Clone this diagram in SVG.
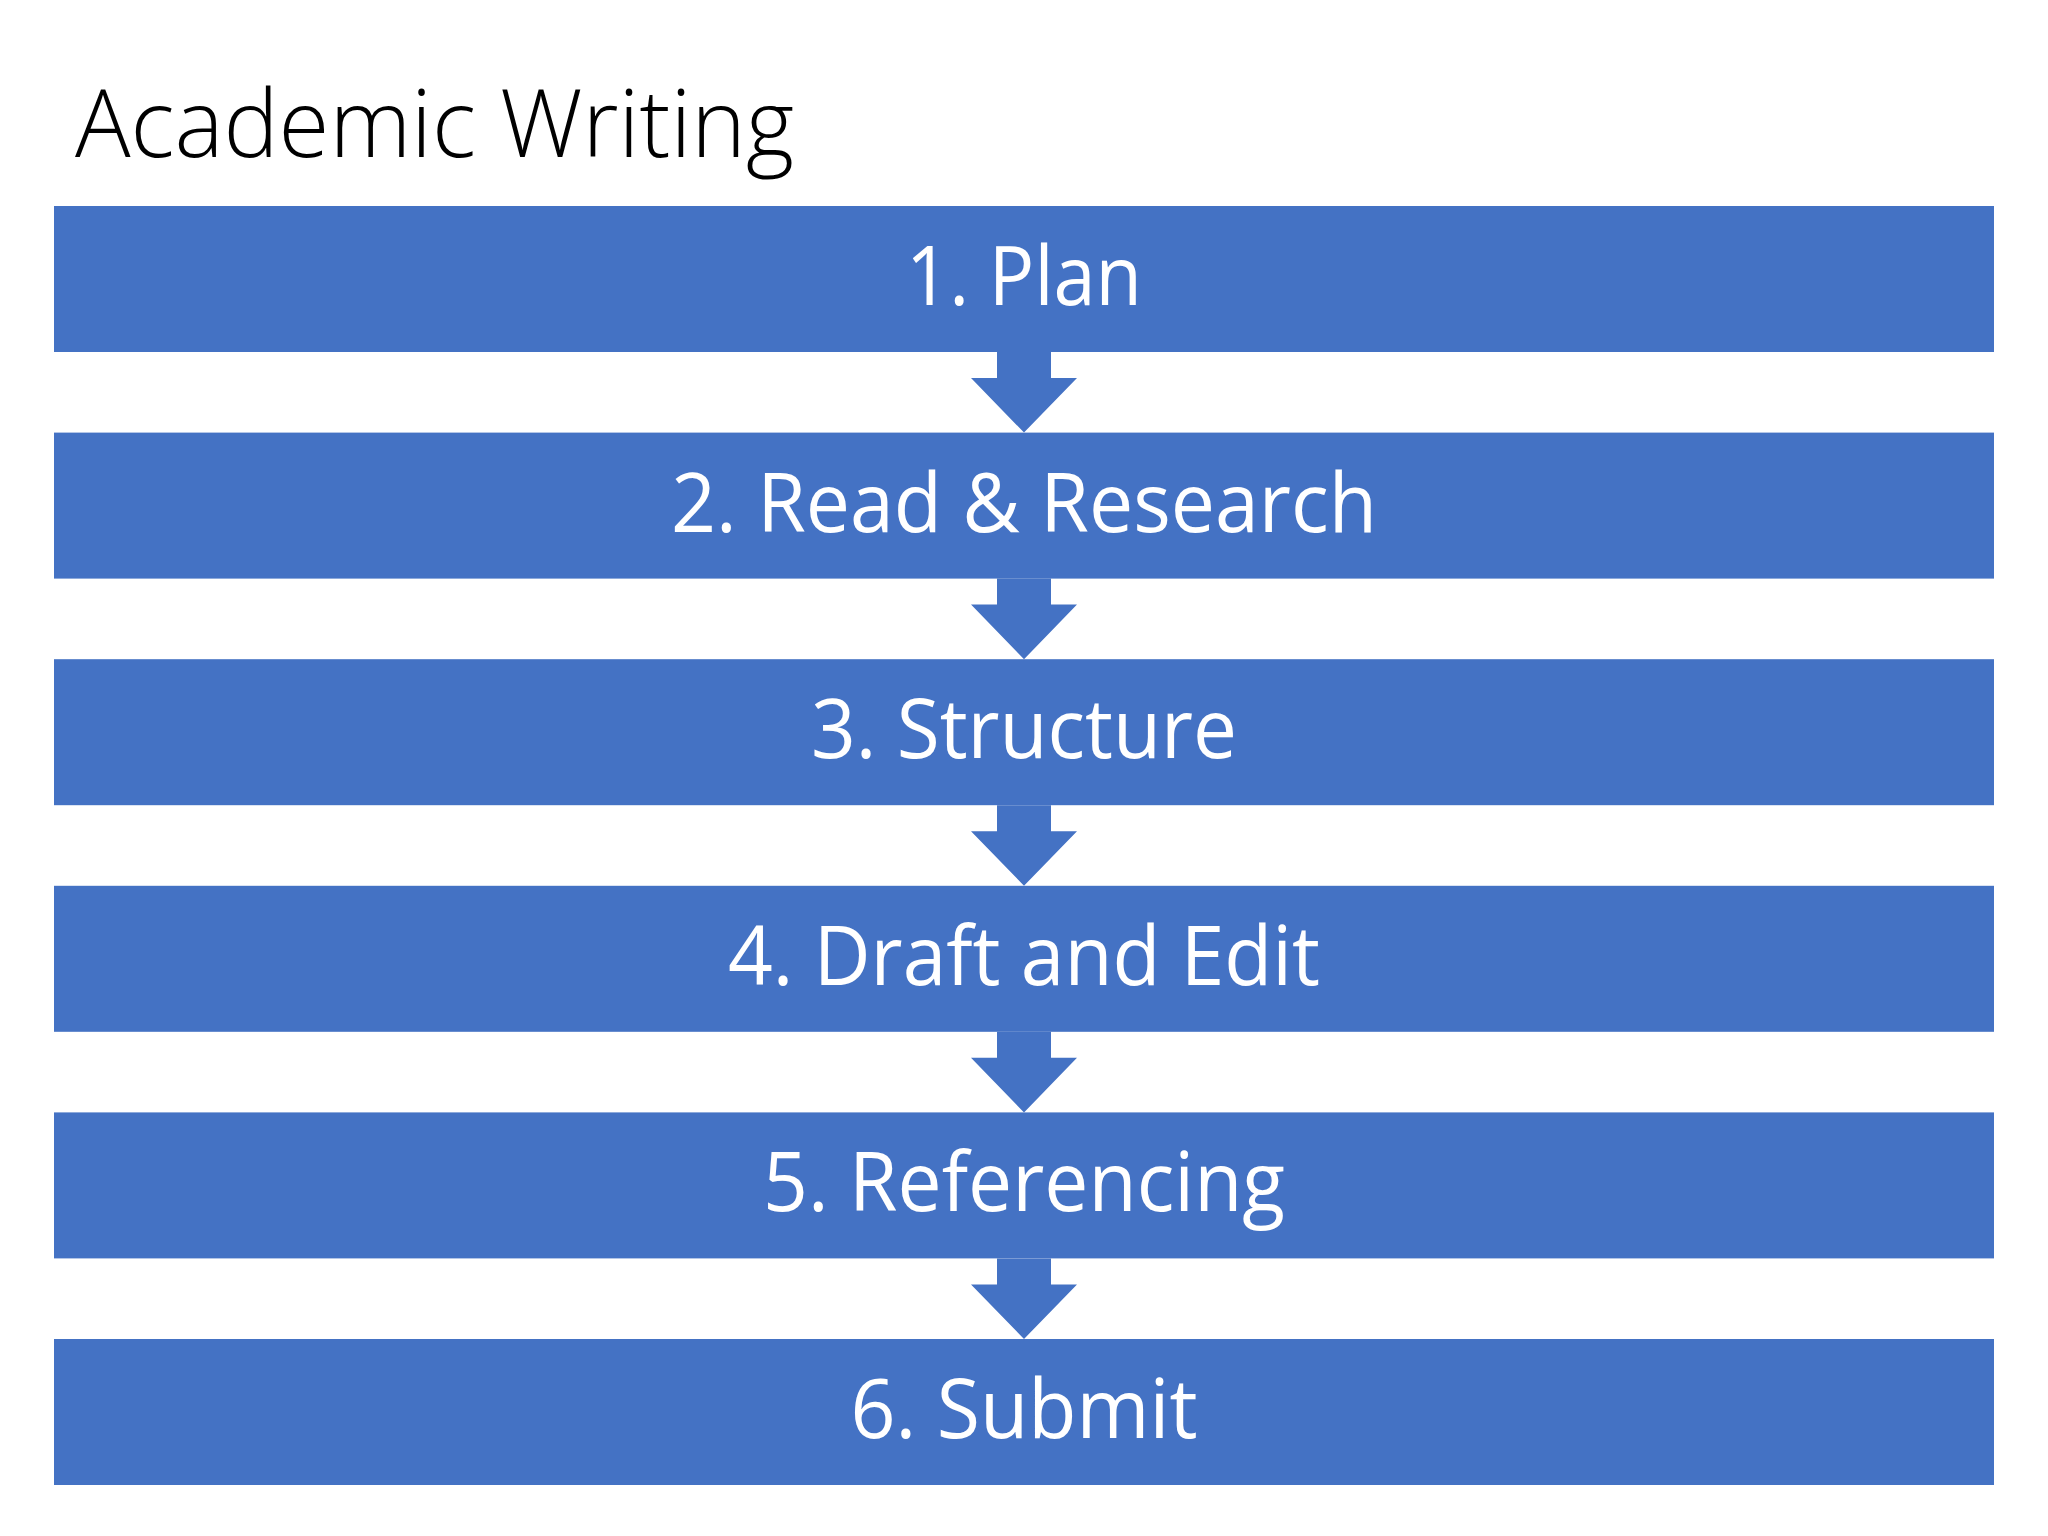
<svg xmlns="http://www.w3.org/2000/svg" width="2048" height="1536" viewBox="0 0 2048 1536">
  <style>
    .box { fill: #4472C4; }
    .arrow { fill: #4472C4; }
    .label { font-family: "Open Sans", "Noto Sans", "Liberation Sans", sans-serif; font-size: 82px; fill: #FFFFFF; text-anchor: middle; }
    .title { font-family: "Open Sans", "Noto Sans", "Liberation Sans", sans-serif; font-size: 94px; font-weight: 300; fill: #000000; }
  </style>
  <rect x="0" y="0" width="2048" height="1536" fill="#FFFFFF"/>
  <text class="title" x="75" y="157" textLength="719" lengthAdjust="spacingAndGlyphs">Academic Writing</text>

  <g id="connectors">
    <path class="arrow" d="M997,352 L1051,352 L1051,378 L1077,378 L1024,432.6 L971,378 L997,378 Z"/>
    <path class="arrow" d="M997,578.6 L1051,578.6 L1051,604.6 L1077,604.6 L1024,659.2 L971,604.6 L997,604.6 Z"/>
    <path class="arrow" d="M997,805.2 L1051,805.2 L1051,831.2 L1077,831.2 L1024,885.8 L971,831.2 L997,831.2 Z"/>
    <path class="arrow" d="M997,1031.8 L1051,1031.8 L1051,1057.8 L1077,1057.8 L1024,1112.4 L971,1057.8 L997,1057.8 Z"/>
    <path class="arrow" d="M997,1258.4 L1051,1258.4 L1051,1284.4 L1077,1284.4 L1024,1339 L971,1284.4 L997,1284.4 Z"/>
  </g>

  <g id="step1">
    <rect class="box" x="54" y="206" width="1940" height="146"/>
    <text class="label" x="1024" y="305" textLength="236" lengthAdjust="spacingAndGlyphs">1. Plan</text>
  </g>
  <g id="step2">
    <rect class="box" x="54" y="432.6" width="1940" height="146"/>
    <text class="label" x="1024" y="531.6" textLength="706" lengthAdjust="spacingAndGlyphs">2. Read &amp; Research</text>
  </g>
  <g id="step3">
    <rect class="box" x="54" y="659.2" width="1940" height="146"/>
    <text class="label" x="1024" y="758.2" textLength="426" lengthAdjust="spacingAndGlyphs">3. Structure</text>
  </g>
  <g id="step4">
    <rect class="box" x="54" y="885.8" width="1940" height="146"/>
    <text class="label" x="1024" y="984.8" textLength="592" lengthAdjust="spacingAndGlyphs">4. Draft and Edit</text>
  </g>
  <g id="step5">
    <rect class="box" x="54" y="1112.4" width="1940" height="146"/>
    <text class="label" x="1024" y="1211.4" textLength="522" lengthAdjust="spacingAndGlyphs">5. Referencing</text>
  </g>
  <g id="step6">
    <rect class="box" x="54" y="1339" width="1940" height="146"/>
    <text class="label" x="1024" y="1438" textLength="347" lengthAdjust="spacingAndGlyphs">6. Submit</text>
  </g>
</svg>
